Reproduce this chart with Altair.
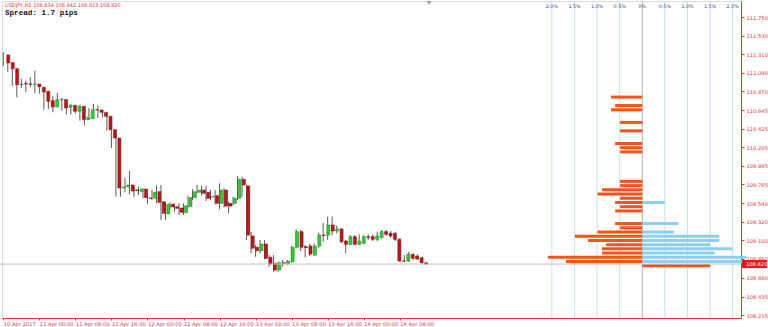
import altair as alt
import pandas as pd

# ---------------- data ----------------
opens = [111.300, 111.210, 111.137, 110.950, 110.962, 110.955, 110.952, 110.955, 110.916, 110.869,
         110.757, 110.683, 110.769, 110.772, 110.679, 110.703, 110.632, 110.691, 110.532, 110.544,
         110.651, 110.648, 110.620, 110.572, 110.414, 110.315, 109.722, 109.734, 109.758, 109.700,
         109.678, 109.710, 109.603, 109.600, 109.678, 109.560, 109.414, 109.529, 109.500, 109.484,
         109.430, 109.500, 109.607, 109.671, 109.698, 109.671, 109.615, 109.631, 109.540, 109.698,
         109.540, 109.540, 109.600, 109.825, 109.746, 109.153, 109.019, 108.978, 109.058, 108.900,
         108.828, 108.749, 108.836, 108.820, 108.848, 109.019, 109.204, 109.025, 109.034, 108.927,
         109.034, 109.164, 109.164, 109.283, 109.212, 109.236, 109.093, 109.054, 109.144, 109.054,
         109.066, 109.144, 109.144, 109.113, 109.132, 109.204, 109.185, 109.185, 109.113, 108.856,
         108.856, 108.935, 108.915, 108.895, 108.834]
highs = [111.335, 111.264, 111.205, 110.988, 111.018, 110.995, 111.035, 111.113, 110.932, 110.888,
         110.798, 110.810, 110.849, 110.790, 110.710, 110.718, 110.698, 110.710, 110.572, 110.671,
         110.718, 110.703, 110.639, 110.591, 110.434, 110.363, 109.841, 109.844, 109.924, 109.737,
         109.737, 109.718, 109.619, 109.698, 109.749, 109.758, 109.552, 109.552, 109.540, 109.540,
         109.540, 109.631, 109.710, 109.758, 109.749, 109.749, 109.698, 109.698, 109.778, 109.718,
         109.559, 109.619, 109.864, 109.856, 109.758, 109.204, 109.046, 109.105, 109.105, 108.927,
         108.927, 108.848, 108.868, 108.868, 109.034, 109.232, 109.224, 109.046, 109.058, 109.066,
         109.192, 109.307, 109.382, 109.382, 109.275, 109.244, 109.105, 109.164, 109.164, 109.173,
         109.164, 109.173, 109.173, 109.204, 109.224, 109.224, 109.212, 109.204, 109.125, 108.927,
         108.966, 108.947, 108.935, 108.907, 108.842]
lows = [111.169, 111.098, 110.932, 110.798, 110.908, 110.861, 110.916, 110.849, 110.841, 110.651,
        110.659, 110.620, 110.750, 110.639, 110.591, 110.591, 110.608, 110.520, 110.466, 110.532,
        110.612, 110.552, 110.561, 110.402, 110.196, 109.619, 109.619, 109.671, 109.647, 109.619,
        109.639, 109.600, 109.529, 109.580, 109.540, 109.342, 109.342, 109.473, 109.441, 109.402,
        109.402, 109.488, 109.580, 109.659, 109.631, 109.568, 109.580, 109.529, 109.469, 109.493,
        109.422, 109.520, 109.580, 109.619, 109.105, 108.947, 108.907, 108.947, 108.876, 108.788,
        108.729, 108.729, 108.788, 108.809, 108.836, 109.007, 108.975, 108.900, 108.915, 108.915,
        109.010, 109.085, 109.105, 109.164, 109.185, 109.066, 108.947, 109.046, 109.046, 109.046,
        109.054, 109.105, 109.093, 109.093, 109.125, 109.153, 109.132, 109.093, 108.848, 108.848,
        108.848, 108.868, 108.868, 108.817, 108.813]
closes = [111.205, 111.137, 110.947, 110.955, 110.955, 110.952, 110.955, 110.924, 110.861, 110.750,
          110.683, 110.769, 110.772, 110.671, 110.703, 110.632, 110.691, 110.532, 110.561, 110.651,
          110.648, 110.620, 110.572, 110.414, 110.315, 109.722, 109.734, 109.758, 109.686, 109.690,
          109.710, 109.607, 109.600, 109.671, 109.552, 109.422, 109.529, 109.497, 109.481, 109.434,
          109.512, 109.607, 109.678, 109.698, 109.659, 109.600, 109.619, 109.540, 109.698, 109.508,
          109.508, 109.600, 109.825, 109.758, 109.164, 109.007, 108.978, 109.058, 108.888, 108.820,
          108.749, 108.836, 108.830, 108.856, 109.019, 109.204, 109.019, 109.015, 108.939, 109.034,
          109.164, 109.160, 109.283, 109.212, 109.236, 109.085, 109.054, 109.144, 109.054, 109.093,
          109.144, 109.137, 109.113, 109.153, 109.204, 109.173, 109.153, 109.113, 108.856, 108.852,
          108.935, 108.888, 108.880, 108.836, 108.820]

date_labels = ["10 Apr 2017", "11 Apr 00:00", "11 Apr 08:00", "11 Apr 16:00", "12 Apr 00:00",
               "12 Apr 08:00", "12 Apr 16:00", "13 Apr 00:00", "13 Apr 08:00", "13 Apr 16:00",
               "14 Apr 00:00", "14 Apr 08:00"]
price_ticks = [111.750, 111.530, 111.310, 111.090, 110.870, 110.645, 110.425, 110.205, 109.985,
               109.765, 109.540, 109.320, 109.100, 108.880, 108.660, 108.435, 108.215]
last_price = 108.820

# order book (percent of book per 0.05 level)
ob_levels = [110.80, 110.70, 110.65, 110.50, 110.40, 110.25, 110.20, 110.15, 109.80, 109.75,
             109.70, 109.65, 109.60, 109.55, 109.50, 109.45, 109.30, 109.25, 109.20, 109.15,
             109.10, 109.05, 109.00, 108.95, 108.90, 108.85, 108.80]
ob_orders = [0.69, 0.60, 0.69, 0.49, 0.49, 0.60, 0.49, 0.49, 0.49, 0.49,
             0.89, 0.99, 0.49, 0.60, 0.49, 0.60, 0.60, 0.49, 0.99, 1.49,
             1.20, 0.80, 0.89, 0.89, 2.09, 1.69, 0.0]
ob_positions_long = [0, 0, 0, 0, 0, 0, 0, 0, 0, 0,
                     0, 0, 0, 0.50, 0, 0, 0.80, 0, 0.70, 1.70,
                     1.70, 1.50, 2.00, 1.60, 2.30, 2.30, 0]
ob_positions_short = [0, 0, 0, 0, 0, 0, 0, 0, 0, 0,
                      0, 0, 0, 0, 0, 0, 0, 0, 0, 0,
                      0, 0, 0, 0, 0, 0, 1.50]
pct_grid = [-2.0, -1.5, -1.0, -0.5, 0.0, 0.5, 1.0, 1.5, 2.0]

# ---------------- tables ----------------
candles = pd.DataFrame({"i": list(range(len(opens))), "open": opens, "high": highs,
                        "low": lows, "close": closes})
candles["dir"] = ["up" if c >= o else "down" for o, c in zip(opens, closes)]

ob_rows = []
for lv, a, b, s in zip(ob_levels, ob_orders, ob_positions_long, ob_positions_short):
    if a > 0:
        ob_rows.append({"price": lv, "v": -a, "kind": "sell"})
    if b > 0:
        ob_rows.append({"price": lv, "v": b, "kind": "buy"})
    if s > 0:
        ob_rows.append({"price": lv, "v": s, "kind": "sell"})
ob = pd.DataFrame(ob_rows)
grid = pd.DataFrame({"p": pct_grid,
                     "lab": [f"{abs(v):.1f}%" if v != 0 else "0%" for v in pct_grid]})

RED = "#e8363c"
FONT = "DejaVu Sans"
FS = 5.2
Y_DOM = [108.180, 111.940]
ysc = alt.Scale(domain=Y_DOM, nice=False, zero=False)
xsc = alt.Scale(domain=[-0.29, 163.75], nice=False, zero=False)
psc = alt.Scale(domain=[-14.166, 2.184], nice=False, zero=False)

label_expr = "[" + ",".join(f"'{s}'" for s in date_labels) + "][round(datum.value/8)]"
x_axis = alt.Axis(values=[8 * k for k in range(len(date_labels))], labelExpr=label_expr,
                  labelAlign="left", labelColor=RED, labelFontSize=FS, labelFont=FONT,
                  labelPadding=1, tickColor=RED, tickSize=2, domainColor=RED, grid=False,
                  title=None, labelFlush=False, labelOverlap=False, labelBaseline="top")
y_axis = alt.Axis(orient="right", values=price_ticks, format=".3f", labelColor=RED,
                  labelFontSize=FS, labelFont=FONT, tickColor=RED, tickSize=3,
                  labelPadding=2, domainColor=RED, grid=False, title=None,
                  labelOverlap=False, labelFlush=False)

def Y(field):
    return alt.Y(field, scale=ysc, axis=y_axis)

# order-book gridlines
grid_rules = alt.Chart(grid).mark_rule(strokeWidth=1).encode(
    x=alt.X("p:Q", scale=psc, axis=None),
    color=alt.condition("datum.p == 0", alt.value("#b4b4b4"), alt.value("#bfe3ef")),
)
grid_text = alt.Chart(grid).mark_text(fontSize=4.8, font=FONT, color="#3a3a8c",
                                      baseline="middle").encode(
    x=alt.X("p:Q", scale=psc, axis=None), y=alt.value(6), text="lab:N")

ob_bars = alt.Chart(ob).transform_calculate(zero="0").mark_rule(strokeWidth=3).encode(
    x=alt.X("zero:Q", scale=psc, axis=None), x2="v:Q",
    y=Y("price:Q"),
    color=alt.Color("kind:N", scale=alt.Scale(domain=["sell", "buy"],
                                              range=["#f2541b", "#8fcdf2"]), legend=None),
)

bid_line = alt.Chart(pd.DataFrame({"p": [last_price]})).mark_rule(
    color="#c0c0c0", strokeWidth=1).encode(
    y=Y("p:Q"), x=alt.value(-2), x2=alt.value(739))

base = alt.Chart(candles)
wicks = base.mark_rule(color="#5a5a5a", strokeWidth=1).encode(
    x=alt.X("i:Q", scale=xsc, axis=x_axis),
    y=Y("low:Q"), y2="high:Q")

bodies = base.mark_bar(size=3, strokeWidth=0.6).encode(
    x=alt.X("i:Q", scale=xsc, axis=None), y=Y("open:Q"), y2="close:Q",
    fill=alt.Fill("dir:N", scale=alt.Scale(domain=["up", "down"],
                                           range=["#36c936", "#b51b1b"]), legend=None),
    stroke=alt.Stroke("dir:N", scale=alt.Scale(domain=["up", "down"],
                                               range=["#2e8b2e", "#8c1010"]), legend=None),
)

price_box = alt.Chart(pd.DataFrame({"p": [last_price]})).mark_rect(
    color="#e8141c", yOffset=-4, y2Offset=4).encode(
    y=Y("p:Q"), y2="p:Q", x=alt.value(740), x2=alt.value(765))
price_txt = alt.Chart(pd.DataFrame({"p": [last_price]})).mark_text(
    color="white", fontSize=FS, font=FONT, align="left", baseline="middle").encode(
    y=Y("p:Q"), x=alt.value(744), text=alt.Text("p:Q", format=".3f"))

hdr = alt.Chart(pd.DataFrame({"t": ["USDJPY,H1  108.834 108.842 108.813 108.820"]})).mark_text(
    color=RED, fontSize=5.0, font=FONT, align="left", baseline="middle").encode(
    x=alt.value(3), y=alt.value(4), text="t:N")
spread = alt.Chart(pd.DataFrame({"t": ["Spread: 1.7 pips"]})).mark_text(
    color="#111111", fontSize=7.6, font="Liberation Mono", fontWeight="bold",
    align="left", baseline="middle").encode(x=alt.value(3), y=alt.value(12), text="t:N")
shift_mark = alt.Chart(pd.DataFrame({"t": [0]})).mark_point(
    shape="triangle-down", filled=True, color="#9a9aaa", size=20, opacity=1).encode(
    x=alt.value(427), y=alt.value(2))

chart = alt.layer(
    wicks, bodies, grid_rules, grid_text, ob_bars, bid_line, price_box, price_txt,
    hdr, spread, shift_mark
).resolve_scale(x="independent", color="independent").properties(
    width=739, height=317,
    padding={"left": 2, "top": 1, "right": 27, "bottom": 9},
    autosize=alt.AutoSizeParams(type="none"),
).configure_view(stroke=RED, strokeWidth=1).configure(background="white")

chart.save("out.html", embed_options={"renderer": "svg", "actions": False})
